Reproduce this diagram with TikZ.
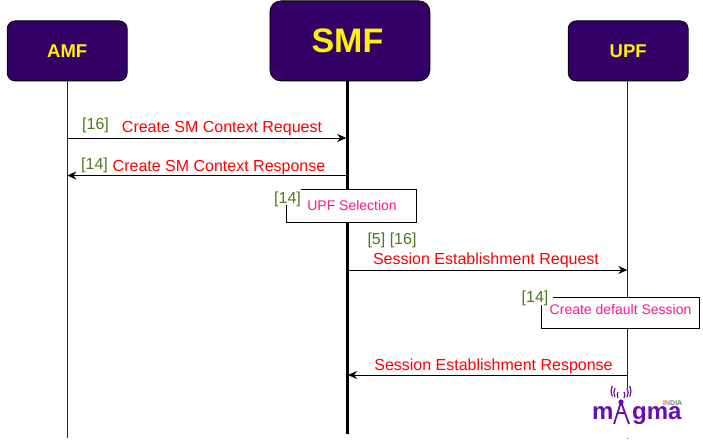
\documentclass[tikz,border=0pt]{standalone}
\usepackage{fontspec}
\setmainfont{Liberation Sans}
\usetikzlibrary{arrows.meta}
\definecolor{boxfill}{HTML}{330066}
\definecolor{refgreen}{HTML}{4D7A1F}
\definecolor{msgred}{HTML}{FF0000}
\definecolor{notepink}{HTML}{FF1493}
\definecolor{logopurple}{HTML}{6A0DAD}
\definecolor{indiared}{HTML}{B08080}
\definecolor{indiagreen}{HTML}{4F9A4F}
\tikzset{
  x=1pt,y=-1pt,
  actor/.style={draw=black,fill=boxfill,rounded corners=8pt,line width=0.8pt,text=yellow,inner sep=0pt,anchor=north west},
  msg/.style={text=msgred,font=\fontsize{16}{16}\selectfont,inner sep=0pt,anchor=base},
  ref/.style={text=refgreen,font=\fontsize{16}{16}\selectfont,inner sep=0pt,anchor=base},
  note/.style={draw=black,fill=white,line width=0.8pt,text=notepink,font=\fontsize{14}{14}\selectfont,inner sep=0pt,anchor=north west},
  life/.style={draw=black!85,line width=0.9pt},
  call/.style={draw=black,line width=0.9pt,-{Stealth[length=9pt,width=8pt]}},
  logotext/.style={text=logopurple,font=\bfseries\fontsize{24}{24}\selectfont,inner sep=0pt,anchor=base west},
}
\begin{document}
\begin{tikzpicture}
\useasboundingbox (0,0) rectangle (703,441);
\fill[white] (0,0) rectangle (703,441);
% end points of the lifelines
\coordinate (amfend) at (67.3,438);
\coordinate (smfend) at (347,434);
\coordinate (upfend) at (627.3,388);
% actors
\node[actor,minimum width=120pt,minimum height=60pt,font=\bfseries\fontsize{18.5}{18.5}\selectfont] (amf) at (6.8,20.5) {AMF};
\node[actor,minimum width=160pt,minimum height=80pt,rounded corners=11pt,font=\bfseries\fontsize{34}{34}\selectfont] (smf) at (269.5,0.5) {\hspace*{-5pt}SMF};
\node[actor,minimum width=120pt,minimum height=60pt,font=\bfseries\fontsize{18.5}{18.5}\selectfont] (upf) at (567.8,20.5) {UPF};
% lifelines
\draw[life] (amf.south -| amfend) -- (amfend);
\draw[draw=black,line width=3pt] (smf.south -| smfend) -- (smfend);
\draw[life] (upf.south -| upfend) -- (upfend);
\fill[black!60] (626.8,437.5) rectangle (627.8,438.5);
% anchors on lifelines
\coordinate (a1) at (67.3,138); \coordinate (s1) at (346.2,138);
\coordinate (a2) at (67.3,175.5); \coordinate (s2) at (346.2,175.5);
\coordinate (s3) at (348,270); \coordinate (u3) at (627.3,270);
\coordinate (s4) at (348,375); \coordinate (u4) at (627.3,375);
% messages
\draw[call] (a1) -- (s1);
\draw[call] (s2) -- (a2);
\draw[call] (s3) -- (u3);
\draw[call] (u4) -- (s4);
\node[msg] (m1) at (222,132) {Create SM Context Request};
\node[msg] (m2) at (219,171) {Create SM Context Response};
\node[msg] (m3) at (486,264) {Session Establishment Request};
\node[msg] (m4) at (493.5,370) {Session Establishment Response};
\node[ref] (r1) at (95.5,129) {[16]};
\node[ref] (r2) at (94.5,169) {[14]};
\node[ref] (r3) at (392,244) {[5] [16]};
% notes
\node[note,minimum width=130pt,minimum height=33pt] (n1) at (285.9,188.5) {\hspace*{1.5pt}UPF Selection};
\node[note,minimum width=158pt,minimum height=31pt,text depth=6pt] (n2) at (540.9,296.8) {\hspace*{0.5pt}Create default Session};
\fill[white] (285,187.5) rectangle (301,205);
\fill[white] (535,295.5) rectangle (553,305);
\node[ref] (r4) at (287.5,203) {[14]};
\node[ref] (r5) at (535,302) {[14]};
% logo
\node[logotext] (lm) at (592,419) {m};
\node[logotext] (lg) at (632,419) {gma};
\node[font=\bfseries\fontsize{7}{7}\selectfont,inner sep=0pt,anchor=base west] (li) at (663,405) {\textcolor{indiared}{IN}\textcolor{black!50}{DI}\textcolor{indiagreen}{A}};
\begin{scope}[draw=logopurple]
\draw[line width=1.8pt] (621,402) -- (614,424) (621,402) -- (629,424) (617,413) -- (625,413);
\fill[logopurple] (621,402) circle (2.6pt);
\draw[line width=1.2pt] (618,398) arc (150:210:6) (624,398) arc (30:-30:6);
\draw[line width=1.2pt] (615,397) arc (150:210:9) (627,397) arc (30:-30:9);
\draw[line width=1.2pt] (612.5,396.5) arc (150:210:10.5) (629.5,396.5) arc (30:-30:10.5);
\end{scope}
\end{tikzpicture}
\end{document}
